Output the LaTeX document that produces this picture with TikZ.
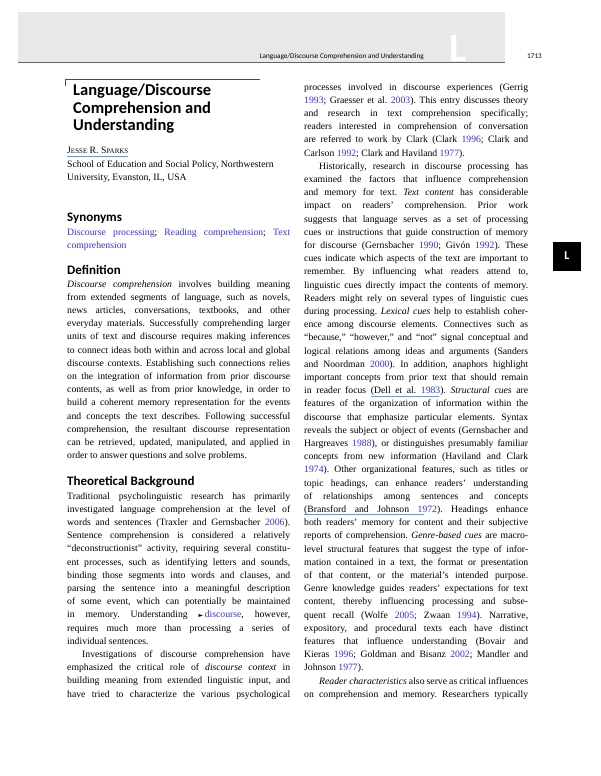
\documentclass[tikz,border=0pt]{standalone}
\usepackage{fontspec}
\setmainfont{Liberation Serif}
\newfontfamily\hd{Carlito}
\newfontfamily\djfont{DejaVu Sans}
\usepackage{calc}
\frenchspacing
\definecolor{lk}{RGB}{50,50,235}
\definecolor{ulb}{RGB}{90,160,220}
\definecolor{band}{RGB}{232,232,232}
\newcounter{ln}
\newcommand\lk[1]{\textcolor{lk}{#1}}
\newlength\ulw
\newcommand\ulb[1]{\settowidth\ulw{#1}\rlap{\color{ulb}\rule[-2.6pt]{\ulw}{0.7pt}}#1}
% justified line
\newcommand\jl[4]{\stepcounter{ln}\node[txt] (ln\theln) at (#1,#2) {\makebox[#3pt][s]{#4}};}
% natural line
\newcommand\nl[3]{\stepcounter{ln}\node[txt] (ln\theln) at (#1,#2) {#3};}
\tikzset{txt/.style={anchor=base west,inner sep=0pt,font=\frenchspacing\fontsize{9.7}{11}\selectfont},
 head/.style={anchor=base west,inner sep=0pt,font=\hd\bfseries\fontsize{13}{14}\selectfont}}
\begin{document}
\begin{tikzpicture}[x=1pt,y=-1pt]
\useasboundingbox (0,0) rectangle (600,776);
\fill[white] (0,0) rectangle (600,776);
% header
\fill[band] (18,12) rectangle (505,62);
\draw[gray!80!black,line width=1.2pt] (18,62.5) -- (505,62.5);
\node[anchor=base,inner sep=0pt,text=white,font=\hd\bfseries\fontsize{40}{40}\selectfont] (hL) at (458,62) {L};
\node[anchor=base east,inner sep=0pt,font=\hd\fontsize{7.2}{8}\selectfont] (htitle) at (424,58.5) {Language/Discourse Comprehension and Understanding};
\node[anchor=base west,inner sep=0pt,font=\hd\fontsize{7.2}{8}\selectfont] (hpage) at (527,58.5) {1713};
% side tab
\node[fill=black,minimum width=28pt,minimum height=29pt,inner sep=0pt,text=white,font=\hd\bfseries\fontsize{12}{12}\selectfont] (tab) at (567,256) {L};
% title
\draw[gray!60!black,line width=1pt] (65.5,86) -- (65.5,79.5) -- (260,79.5);
\node[anchor=north west,inner sep=0pt,align=left,font=\hd\bfseries\fontsize{16.5}{17.5}\selectfont] (title) at (73,84) {Language/Discourse\\Comprehension and\\Understanding};
\nl{67}{153}{J{\fontsize{7}{8}\selectfont ESSE} R. S{\fontsize{7}{8}\selectfont PARKS}}
\draw[ulb,line width=0.7pt] (67,156.5) -- (128,156.5);
\nl{67}{167}{School of Education and Social Policy, Northwestern}
\nl{67}{180.5}{University, Evanston, IL, USA}
\node[head] (syn) at (67,221) {Synonyms};
\jl{67}{235}{223}{\lk{Discourse processing}; \lk{Reading comprehension}; \lk{Text}}
\nl{67}{248}{\lk{comprehension}}
\node[head] (def) at (67,274) {Definition};
\jl{67}{287}{223}{\textit{Discourse comprehension} involves building meaning}
\jl{67}{300.2}{223}{from extended segments of language, such as novels,}
\jl{67}{313.4}{223}{news articles, conversations, textbooks, and other}
\jl{67}{326.6}{223}{everyday materials. Successfully comprehending larger}
\jl{67}{339.8}{223}{units of text and discourse requires making inferences}
\jl{67}{353}{223}{to connect ideas both within and across local and global}
\jl{67}{366.2}{223}{discourse contexts. Establishing such connections relies}
\jl{67}{379.4}{223}{on the integration of information from prior discourse}
\jl{67}{392.6}{223}{contents, as well as from prior knowledge, in order to}
\jl{67}{405.8}{223}{build a coherent memory representation for the events}
\jl{67}{419}{223}{and concepts the text describes. Following successful}
\jl{67}{432.2}{223}{comprehension, the resultant discourse representation}
\jl{67}{445.4}{223}{can be retrieved, updated, manipulated, and applied in}
\nl{67}{458.6}{order to answer questions and solve problems.}
\node[head] (tb) at (67,485) {Theoretical Background};
\jl{67}{499}{223}{Traditional psycholinguistic research has primarily}
\jl{67}{512.2}{223}{investigated language comprehension at the level of}
\jl{67}{525.4}{223}{words and sentences (Traxler and Gernsbacher \lk{2006}).}
\jl{67}{538.6}{223}{Sentence comprehension is considered a relatively}
\jl{67}{551.8}{223}{“deconstructionist” activity, requiring several constitu-}
\jl{67}{565}{223}{ent processes, such as identifying letters and sounds,}
\jl{67}{578.2}{223}{binding those segments into words and clauses, and}
\jl{67}{591.4}{223}{parsing the sentence into a meaningful description}
\jl{67}{604.6}{223}{of some event, which can potentially be maintained}
\jl{67}{617.8}{223}{in memory. Understanding {\djfont\fontsize{6}{6}\selectfont ►}\,\lk{discourse}, however,}
\jl{67}{631}{223}{requires much more than processing a series of}
\nl{67}{644.2}{individual sentences.}
\jl{82}{657.4}{208}{Investigations of discourse comprehension have}
\jl{67}{670.6}{223}{emphasized the critical role of \textit{discourse context} in}
\jl{67}{683.8}{223}{building meaning from extended linguistic input, and}
\jl{67}{697}{223}{have tried to characterize the various psychological}
% right column
\jl{304}{90}{224}{processes involved in discourse experiences (Gerrig}
\jl{304}{103.2}{224}{\lk{1993}; Graesser et al. \lk{2003}). This entry discusses theory}
\jl{304}{116.4}{224}{and research in text comprehension specifically;}
\jl{304}{129.6}{224}{readers interested in comprehension of conversation}
\jl{304}{142.8}{224}{are referred to work by Clark (Clark \lk{1996}; Clark and}
\nl{304}{156}{Carlson \lk{1992}; Clark and Haviland \lk{1977}).}
\jl{319}{169.2}{209}{Historically, research in discourse processing has}
\jl{304}{182.4}{224}{examined the factors that influence comprehension}
\jl{304}{195.6}{224}{and memory for text. \textit{Text content} has considerable}
\jl{304}{208.8}{224}{impact on readers’ comprehension. Prior work}
\jl{304}{222}{224}{suggests that language serves as a set of processing}
\jl{304}{235.2}{224}{cues or instructions that guide construction of memory}
\jl{304}{248.4}{224}{for discourse (Gernsbacher \lk{1990}; Givón \lk{1992}). These}
\jl{304}{261.6}{224}{cues indicate which aspects of the text are important to}
\jl{304}{274.8}{224}{remember. By influencing what readers attend to,}
\jl{304}{288}{224}{linguistic cues directly impact the contents of memory.}
\jl{304}{301.2}{224}{Readers might rely on several types of linguistic cues}
\jl{304}{314.4}{224}{during processing. \textit{Lexical cues} help to establish coher-}
\jl{304}{327.6}{224}{ence among discourse elements. Connectives such as}
\jl{304}{340.8}{224}{“because,” “however,” and “not” signal conceptual and}
\jl{304}{354}{224}{logical relations among ideas and arguments (Sanders}
\jl{304}{367.2}{224}{and Noordman \lk{2000}). In addition, anaphors highlight}
\jl{304}{380.4}{224}{important concepts from prior text that should remain}
\jl{304}{393.6}{224}{in reader focus \ulb{(Dell et al. \lk{1983}).} \textit{Structural cues} are}
\jl{304}{406.8}{224}{features of the organization of information within the}
\jl{304}{420}{224}{discourse that emphasize particular elements. Syntax}
\jl{304}{433.2}{224}{reveals the subject or object of events (Gernsbacher and}
\jl{304}{446.4}{224}{Hargreaves \lk{1988}), or distinguishes presumably familiar}
\jl{304}{459.6}{224}{concepts from new information (Haviland and Clark}
\jl{304}{472.8}{224}{\lk{1974}). Other organizational features, such as titles or}
\jl{304}{486}{224}{topic headings, can enhance readers’ understanding}
\jl{304}{499.2}{224}{of relationships among sentences and concepts}
\jl{304}{512.4}{224}{\ulb{(Bransford and Johnson \lk{1972}).} Headings enhance}
\jl{304}{525.6}{224}{both readers’ memory for content and their subjective}
\jl{304}{538.8}{224}{reports of comprehension. \textit{Genre-based cues} are macro-}
\jl{304}{552}{224}{level structural features that suggest the type of infor-}
\jl{304}{565.2}{224}{mation contained in a text, the format or presentation}
\jl{304}{578.4}{224}{of that content, or the material’s intended purpose.}
\jl{304}{591.6}{224}{Genre knowledge guides readers’ expectations for text}
\jl{304}{604.8}{224}{content, thereby influencing processing and subse-}
\jl{304}{618}{224}{quent recall (Wolfe \lk{2005}; Zwaan \lk{1994}). Narrative,}
\jl{304}{631.2}{224}{expository, and procedural texts each have distinct}
\jl{304}{644.4}{224}{features that influence understanding (Bovair and}
\jl{304}{657.6}{224}{Kieras \lk{1996}; Goldman and Bisanz \lk{2002}; Mandler and}
\nl{304}{670.8}{Johnson \lk{1977}).}
\jl{319}{684}{209}{\textit{Reader characteristics} also serve as critical influences}
\jl{304}{697.2}{224}{on comprehension and memory. Researchers typically}
\end{tikzpicture}
\end{document}
